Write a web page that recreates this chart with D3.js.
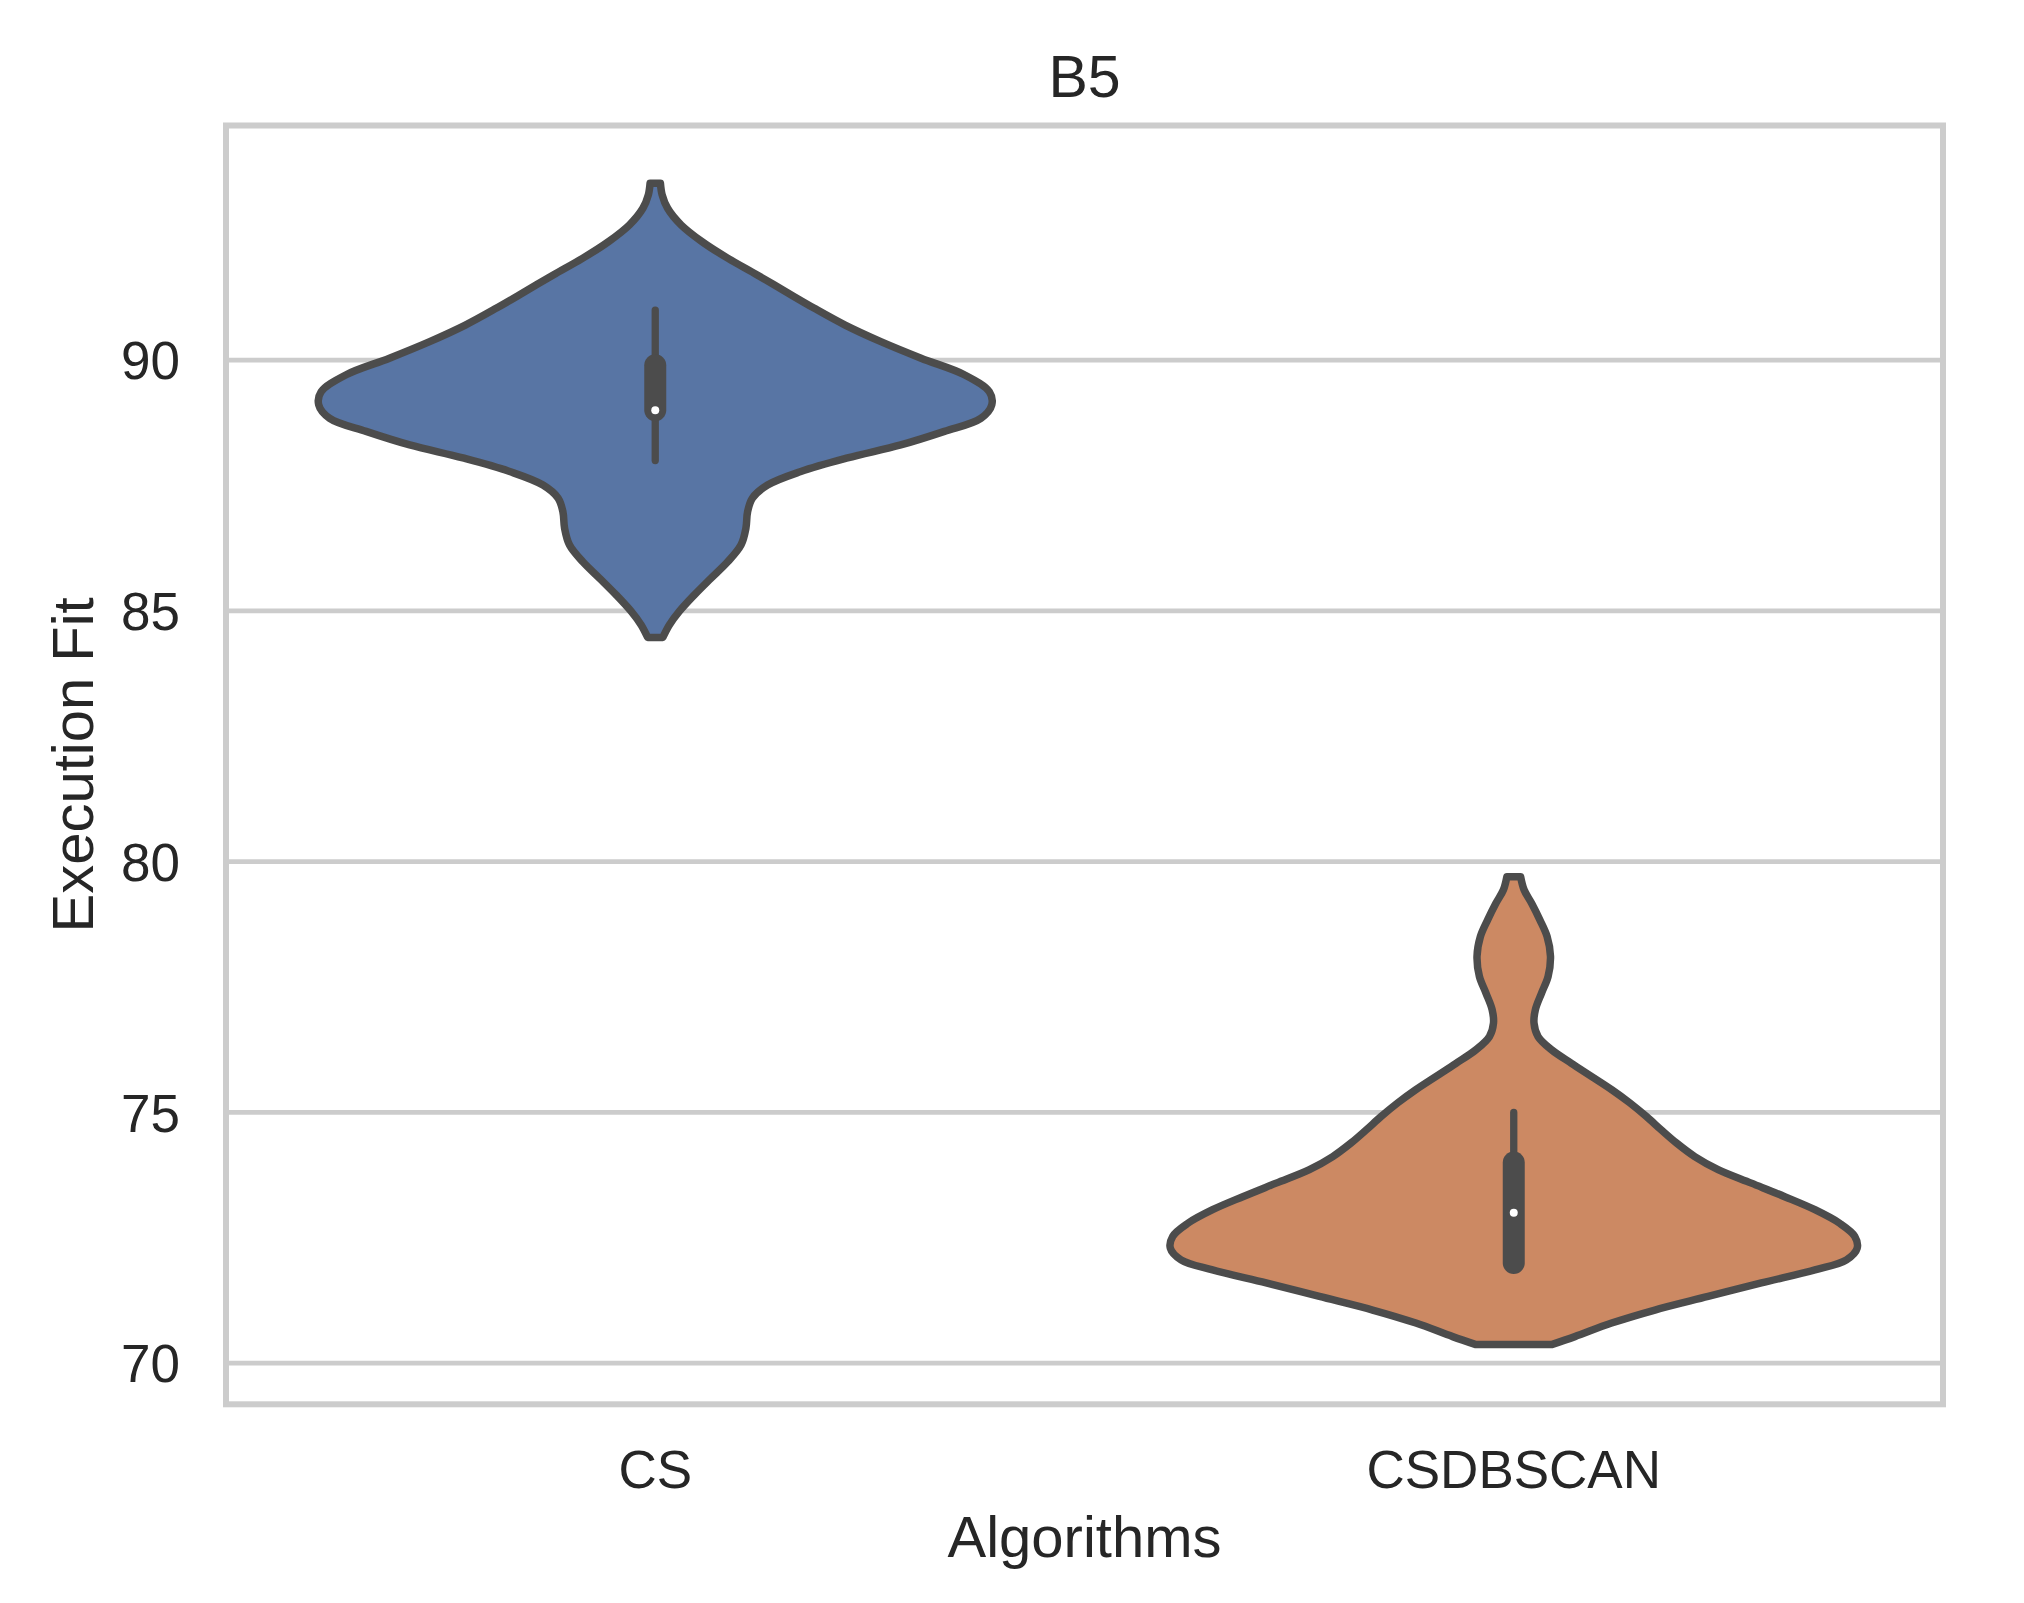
<!DOCTYPE html>
<html>
<head>
<meta charset="utf-8">
<script src="https://cdn.jsdelivr.net/npm/d3@7"></script>
<style>
  html, body { margin: 0; padding: 0; background: #ffffff; }
  svg { display: block; }
  text { font-family: "Liberation Sans", Arial, Helvetica, sans-serif; fill: #262626; }
</style>
</head>
<body>
<svg id="chart" width="2024" height="1603"></svg>
<script>
// ---- data ----
const categories = ["CS", "CSDBSCAN"];
const colors = ["#5875a4", "#cc8963"];
const yTicks = [70, 75, 80, 85, 90];
const titleText = "B5";
const xLabel = "Algorithms";
const yLabel = "Execution Fit";

// violin profiles: value and relative density (1 = widest)
const csValues   = [84.47, 84.72, 84.99, 85.32, 85.65, 85.98, 86.32, 86.65, 86.98, 87.25, 87.51, 87.78, 88.05, 88.31, 88.58, 88.84, 89.11, 89.37, 89.71, 90.04, 90.37, 90.70, 91.04, 91.37, 91.70, 92.03, 92.37, 92.70, 93.03, 93.30, 93.53];
const csDensity  = [0.022, 0.041, 0.070, 0.114, 0.162, 0.211, 0.250, 0.264, 0.269, 0.283, 0.327, 0.424, 0.560, 0.715, 0.842, 0.948, 0.980, 0.973, 0.900, 0.774, 0.657, 0.553, 0.462, 0.379, 0.297, 0.212, 0.135, 0.075, 0.036, 0.020, 0.015];
const csdValues  = [70.37, 70.53, 70.80, 71.06, 71.33, 71.60, 71.86, 72.06, 72.29, 72.53, 72.79, 73.06, 73.32, 73.59, 73.86, 74.12, 74.39, 74.65, 74.92, 75.19, 75.45, 75.72, 75.98, 76.25, 76.51, 76.78, 77.05, 77.38, 77.71, 78.11, 78.51, 78.84, 79.17, 79.44, 79.70];
const csdDensity = [0.110, 0.178, 0.285, 0.411, 0.566, 0.721, 0.877, 0.969, 1.000, 0.993, 0.949, 0.877, 0.789, 0.692, 0.595, 0.527, 0.474, 0.430, 0.386, 0.338, 0.286, 0.226, 0.168, 0.110, 0.071, 0.059, 0.063, 0.081, 0.100, 0.107, 0.097, 0.076, 0.052, 0.030, 0.020];

// inner box statistics [whiskerLow, q25, median, q75, whiskerHigh]
const csBox  = [88, 89, 89, 89.9, 91];
const csdBox = [72, 72, 73, 74, 75];

// ---- layout ----
const W = 2024, H = 1603;
const plot = { left: 226, right: 1943, top: 125.5, bottom: 1404.3 };
const gray = "#4c4c4c";
const gridColor = "#cccccc";

const svg = d3.select("#chart");
svg.append("rect").attr("width", W).attr("height", H).attr("fill", "#ffffff");

const x = d3.scaleBand().domain(categories).range([plot.left, plot.right]).padding(0);
const y = d3.scaleLinear().domain([69.18, 94.68]).range([plot.bottom, plot.top]);
const wScale = d3.scaleLinear().domain([0, 1]).range([0, x.bandwidth() * 0.4]);
const cx = c => x(c) + x.bandwidth() / 2;

// gridlines
svg.append("g").selectAll("line").data(yTicks).join("line")
  .attr("x1", plot.left).attr("x2", plot.right)
  .attr("y1", d => y(d)).attr("y2", d => y(d))
  .attr("stroke", gridColor).attr("stroke-width", 4.8);

// y tick labels
svg.append("g").selectAll("text").data(yTicks).join("text")
  .attr("x", 180).attr("y", d => y(d)).attr("dy", "0.36em")
  .attr("text-anchor", "end").attr("font-size", 53)
  .text(d => d);

// x tick labels
svg.append("g").selectAll("text").data(categories).join("text")
  .attr("x", d => cx(d)).attr("y", 1488)
  .attr("text-anchor", "middle").attr("font-size", 53)
  .text(d => d);

// violins
const violins = [
  { cat: categories[0], values: csValues, dens: csDensity, box: csBox, color: colors[0] },
  { cat: categories[1], values: csdValues, dens: csdDensity, box: csdBox, color: colors[1] }
];

violins.forEach(v => {
  const pts = v.values.map((val, i) => ({ v: val, d: v.dens[i] }));
  const c = cx(v.cat);
  const area = d3.area()
    .y(d => y(d.v))
    .x0(d => c - wScale(d.d))
    .x1(d => c + wScale(d.d))
    .curve(d3.curveCatmullRom.alpha(0.5));
  svg.append("path").datum(pts)
    .attr("d", area)
    .attr("fill", v.color)
    .attr("stroke", gray).attr("stroke-width", 7.5)
    .attr("stroke-linejoin", "round");

  // whisker
  svg.append("line")
    .attr("x1", c).attr("x2", c)
    .attr("y1", y(v.box[0])).attr("y2", y(v.box[4]))
    .attr("stroke", gray).attr("stroke-width", 7.3).attr("stroke-linecap", "round");
  // box
  svg.append("line")
    .attr("x1", c).attr("x2", c)
    .attr("y1", y(v.box[1])).attr("y2", y(v.box[3]))
    .attr("stroke", gray).attr("stroke-width", 22).attr("stroke-linecap", "round");
  // median
  svg.append("circle")
    .attr("cx", c).attr("cy", y(v.box[2])).attr("r", 4)
    .attr("fill", "#ffffff");
});

// frame
svg.append("rect")
  .attr("x", plot.left).attr("y", plot.top)
  .attr("width", plot.right - plot.left).attr("height", plot.bottom - plot.top)
  .attr("fill", "none").attr("stroke", gridColor).attr("stroke-width", 6);

// title and axis labels
svg.append("text")
  .attr("x", (plot.left + plot.right) / 2).attr("y", 96.7)
  .attr("text-anchor", "middle").attr("font-size", 59)
  .text(titleText);

svg.append("text")
  .attr("x", (plot.left + plot.right) / 2).attr("y", 1557)
  .attr("text-anchor", "middle").attr("font-size", 58)
  .text(xLabel);

svg.append("text")
  .attr("transform", `translate(93,${(plot.top + plot.bottom) / 2}) rotate(-90)`)
  .attr("text-anchor", "middle").attr("font-size", 58)
  .text(yLabel);
</script>
</body>
</html>
